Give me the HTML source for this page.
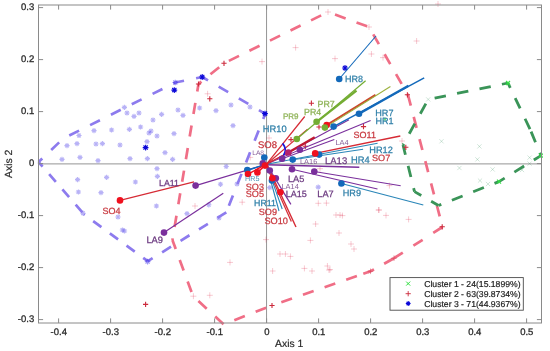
<!DOCTYPE html>
<html lang="en">
<head>
<meta charset="utf-8">
<title>Biplot clusters</title>
<style>
html,body{margin:0;padding:0;background:#ffffff;}
body{width:550px;height:351px;overflow:hidden;}
svg{display:block;text-rendering:geometricPrecision;filter:blur(0.35px);}
</style>
</head>
<body>
<svg width="550" height="351" viewBox="0 0 550 351" font-family="'Liberation Sans', sans-serif">
<rect x="0" y="0" width="550" height="351" fill="#ffffff"/>
<g stroke="#8a8a8a" stroke-width="1.0" fill="none">
<path d="M38.5,163.9H541.5M266.55,5.0V323.0" stroke="#959595"/>
</g>
<clipPath id="cp"><rect x="37.0" y="0.0" width="506.0" height="326.0"/></clipPath>
<g clip-path="url(#cp)">
<g id="light">
<path d="M121.8,107.4H127.0M124.4,104.8V110.0M122.6,105.6L126.2,109.2M122.6,109.2L126.2,105.6" stroke="#3a2ae6" stroke-width="1.1" stroke-opacity="0.36" fill="none"/>
<path d="M124.4,113.0H129.6M127.0,110.4V115.6M125.2,111.2L128.8,114.8M125.2,114.8L128.8,111.2" stroke="#3a2ae6" stroke-width="1.1" stroke-opacity="0.36" fill="none"/>
<path d="M131.4,116.4H136.6M134.0,113.8V119.0M132.2,114.6L135.8,118.2M132.2,118.2L135.8,114.6" stroke="#3a2ae6" stroke-width="1.1" stroke-opacity="0.36" fill="none"/>
<path d="M136.4,113.0H141.6M139.0,110.4V115.6M137.2,111.2L140.8,114.8M137.2,114.8L140.8,111.2" stroke="#3a2ae6" stroke-width="1.1" stroke-opacity="0.36" fill="none"/>
<path d="M150.4,120.0H155.6M153.0,117.4V122.6M151.2,118.2L154.8,121.8M151.2,121.8L154.8,118.2" stroke="#3a2ae6" stroke-width="1.1" stroke-opacity="0.36" fill="none"/>
<path d="M159.0,114.4H164.2M161.6,111.8V117.0M159.8,112.6L163.4,116.2M159.8,116.2L163.4,112.6" stroke="#3a2ae6" stroke-width="1.1" stroke-opacity="0.36" fill="none"/>
<path d="M175.4,110.0H180.6M178.0,107.4V112.6M176.2,108.2L179.8,111.8M176.2,111.8L179.8,108.2" stroke="#3a2ae6" stroke-width="1.1" stroke-opacity="0.36" fill="none"/>
<path d="M180.4,115.4H185.6M183.0,112.8V118.0M181.2,113.6L184.8,117.2M181.2,117.2L184.8,113.6" stroke="#3a2ae6" stroke-width="1.1" stroke-opacity="0.36" fill="none"/>
<path d="M197.0,108.0H202.2M199.6,105.4V110.6M197.8,106.2L201.4,109.8M197.8,109.8L201.4,106.2" stroke="#3a2ae6" stroke-width="1.1" stroke-opacity="0.36" fill="none"/>
<path d="M213.4,110.6H218.6M216.0,108.0V113.2M214.2,108.8L217.8,112.4M214.2,112.4L217.8,108.8" stroke="#3a2ae6" stroke-width="1.1" stroke-opacity="0.36" fill="none"/>
<path d="M109.0,130.0H114.2M111.6,127.4V132.6M109.8,128.2L113.4,131.8M109.8,131.8L113.4,128.2" stroke="#3a2ae6" stroke-width="1.1" stroke-opacity="0.36" fill="none"/>
<path d="M126.8,129.4H132.0M129.4,126.8V132.0M127.6,127.6L131.2,131.2M127.6,131.2L131.2,127.6" stroke="#3a2ae6" stroke-width="1.1" stroke-opacity="0.36" fill="none"/>
<path d="M138.0,127.0H143.2M140.6,124.4V129.6M138.8,125.2L142.4,128.8M138.8,128.8L142.4,125.2" stroke="#3a2ae6" stroke-width="1.1" stroke-opacity="0.36" fill="none"/>
<path d="M146.4,133.0H151.6M149.0,130.4V135.6M147.2,131.2L150.8,134.8M147.2,134.8L150.8,131.2" stroke="#3a2ae6" stroke-width="1.1" stroke-opacity="0.36" fill="none"/>
<path d="M148.4,131.0H153.6M151.0,128.4V133.6M149.2,129.2L152.8,132.8M149.2,132.8L152.8,129.2" stroke="#3a2ae6" stroke-width="1.1" stroke-opacity="0.36" fill="none"/>
<path d="M154.4,136.0H159.6M157.0,133.4V138.6M155.2,134.2L158.8,137.8M155.2,137.8L158.8,134.2" stroke="#3a2ae6" stroke-width="1.1" stroke-opacity="0.36" fill="none"/>
<path d="M171.4,133.6H176.6M174.0,131.0V136.2M172.2,131.8L175.8,135.4M172.2,135.4L175.8,131.8" stroke="#3a2ae6" stroke-width="1.1" stroke-opacity="0.36" fill="none"/>
<path d="M76.4,135.5H81.6M79.0,132.9V138.1M77.2,133.7L80.8,137.3M77.2,137.3L80.8,133.7" stroke="#3a2ae6" stroke-width="1.1" stroke-opacity="0.36" fill="none"/>
<path d="M91.4,130.6H96.6M94.0,128.0V133.2M92.2,128.8L95.8,132.4M92.2,132.4L95.8,128.8" stroke="#3a2ae6" stroke-width="1.1" stroke-opacity="0.36" fill="none"/>
<path d="M228.4,105.0H233.6M231.0,102.4V107.6M229.2,103.2L232.8,106.8M229.2,106.8L232.8,103.2" stroke="#3a2ae6" stroke-width="1.1" stroke-opacity="0.36" fill="none"/>
<path d="M247.4,107.0H252.6M250.0,104.4V109.6M248.2,105.2L251.8,108.8M248.2,108.8L251.8,105.2" stroke="#3a2ae6" stroke-width="1.1" stroke-opacity="0.36" fill="none"/>
<path d="M230.4,125.6H235.6M233.0,123.0V128.2M231.2,123.8L234.8,127.4M231.2,127.4L234.8,123.8" stroke="#3a2ae6" stroke-width="1.1" stroke-opacity="0.36" fill="none"/>
<path d="M64.4,145.6H69.6M67.0,143.0V148.2M65.2,143.8L68.8,147.4M65.2,147.4L68.8,143.8" stroke="#3a2ae6" stroke-width="1.1" stroke-opacity="0.36" fill="none"/>
<path d="M74.4,143.6H79.6M77.0,141.0V146.2M75.2,141.8L78.8,145.4M75.2,145.4L78.8,141.8" stroke="#3a2ae6" stroke-width="1.1" stroke-opacity="0.36" fill="none"/>
<path d="M93.4,144.0H98.6M96.0,141.4V146.6M94.2,142.2L97.8,145.8M94.2,145.8L97.8,142.2" stroke="#3a2ae6" stroke-width="1.1" stroke-opacity="0.36" fill="none"/>
<path d="M99.8,143.6H105.0M102.4,141.0V146.2M100.6,141.8L104.2,145.4M100.6,145.4L104.2,141.8" stroke="#3a2ae6" stroke-width="1.1" stroke-opacity="0.36" fill="none"/>
<path d="M59.4,159.4H64.6M62.0,156.8V162.0M60.2,157.6L63.8,161.2M60.2,161.2L63.8,157.6" stroke="#3a2ae6" stroke-width="1.1" stroke-opacity="0.36" fill="none"/>
<path d="M77.4,157.4H82.6M80.0,154.8V160.0M78.2,155.6L81.8,159.2M78.2,159.2L81.8,155.6" stroke="#3a2ae6" stroke-width="1.1" stroke-opacity="0.36" fill="none"/>
<path d="M95.4,160.6H100.6M98.0,158.0V163.2M96.2,158.8L99.8,162.4M96.2,162.4L99.8,158.8" stroke="#3a2ae6" stroke-width="1.1" stroke-opacity="0.36" fill="none"/>
<path d="M75.0,179.6H80.2M77.6,177.0V182.2M75.8,177.8L79.4,181.4M75.8,181.4L79.4,177.8" stroke="#3a2ae6" stroke-width="1.1" stroke-opacity="0.36" fill="none"/>
<path d="M104.0,177.4H109.2M106.6,174.8V180.0M104.8,175.6L108.4,179.2M104.8,179.2L108.4,175.6" stroke="#3a2ae6" stroke-width="1.1" stroke-opacity="0.36" fill="none"/>
<path d="M75.8,192.0H81.0M78.4,189.4V194.6M76.6,190.2L80.2,193.8M76.6,193.8L80.2,190.2" stroke="#3a2ae6" stroke-width="1.1" stroke-opacity="0.36" fill="none"/>
<path d="M98.4,192.6H103.6M101.0,190.0V195.2M99.2,190.8L102.8,194.4M99.2,194.4L102.8,190.8" stroke="#3a2ae6" stroke-width="1.1" stroke-opacity="0.36" fill="none"/>
<path d="M117.4,145.0H122.6M120.0,142.4V147.6M118.2,143.2L121.8,146.8M118.2,146.8L121.8,143.2" stroke="#3a2ae6" stroke-width="1.1" stroke-opacity="0.36" fill="none"/>
<path d="M144.4,141.6H149.6M147.0,139.0V144.2M145.2,139.8L148.8,143.4M145.2,143.4L148.8,139.8" stroke="#3a2ae6" stroke-width="1.1" stroke-opacity="0.36" fill="none"/>
<path d="M162.4,152.6H167.6M165.0,150.0V155.2M163.2,150.8L166.8,154.4M163.2,154.4L166.8,150.8" stroke="#3a2ae6" stroke-width="1.1" stroke-opacity="0.36" fill="none"/>
<path d="M127.4,158.6H132.6M130.0,156.0V161.2M128.2,156.8L131.8,160.4M128.2,160.4L131.8,156.8" stroke="#3a2ae6" stroke-width="1.1" stroke-opacity="0.36" fill="none"/>
<path d="M144.8,158.6H150.0M147.4,156.0V161.2M145.6,156.8L149.2,160.4M145.6,160.4L149.2,156.8" stroke="#3a2ae6" stroke-width="1.1" stroke-opacity="0.36" fill="none"/>
<path d="M170.0,159.4H175.2M172.6,156.8V162.0M170.8,157.6L174.4,161.2M170.8,161.2L174.4,157.6" stroke="#3a2ae6" stroke-width="1.1" stroke-opacity="0.36" fill="none"/>
<path d="M154.4,168.6H159.6M157.0,166.0V171.2M155.2,166.8L158.8,170.4M155.2,170.4L158.8,166.8" stroke="#3a2ae6" stroke-width="1.1" stroke-opacity="0.36" fill="none"/>
<path d="M154.8,176.4H160.0M157.4,173.8V179.0M155.6,174.6L159.2,178.2M155.6,178.2L159.2,174.6" stroke="#3a2ae6" stroke-width="1.1" stroke-opacity="0.36" fill="none"/>
<path d="M132.8,182.0H138.0M135.4,179.4V184.6M133.6,180.2L137.2,183.8M133.6,183.8L137.2,180.2" stroke="#3a2ae6" stroke-width="1.1" stroke-opacity="0.36" fill="none"/>
<path d="M153.8,206.0H159.0M156.4,203.4V208.6M154.6,204.2L158.2,207.8M154.6,207.8L158.2,204.2" stroke="#3a2ae6" stroke-width="1.1" stroke-opacity="0.36" fill="none"/>
<path d="M115.4,217.0H120.6M118.0,214.4V219.6M116.2,215.2L119.8,218.8M116.2,218.8L119.8,215.2" stroke="#3a2ae6" stroke-width="1.1" stroke-opacity="0.36" fill="none"/>
<path d="M119.8,230.0H125.0M122.4,227.4V232.6M120.6,228.2L124.2,231.8M120.6,231.8L124.2,228.2" stroke="#3a2ae6" stroke-width="1.1" stroke-opacity="0.36" fill="none"/>
<path d="M121.9,231.0H127.1M124.5,228.4V233.6M122.7,229.2L126.3,232.8M122.7,232.8L126.3,229.2" stroke="#3a2ae6" stroke-width="1.1" stroke-opacity="0.36" fill="none"/>
<path d="M184.4,213.6H189.6M187.0,211.0V216.2M185.2,211.8L188.8,215.4M185.2,215.4L188.8,211.8" stroke="#3a2ae6" stroke-width="1.1" stroke-opacity="0.36" fill="none"/>
<path d="M216.4,218.0H221.6M219.0,215.4V220.6M217.2,216.2L220.8,219.8M217.2,219.8L220.8,216.2" stroke="#3a2ae6" stroke-width="1.1" stroke-opacity="0.36" fill="none"/>
<path d="M80.4,213.2H85.6M83.0,210.6V215.8M81.2,211.4L84.8,215.0M81.2,215.0L84.8,211.4" stroke="#3a2ae6" stroke-width="1.1" stroke-opacity="0.36" fill="none"/>
<path d="M267.2,187.6H272.4M269.8,185.0V190.2M268.0,185.8L271.6,189.4M268.0,189.4L271.6,185.8" stroke="#3a2ae6" stroke-width="1.1" stroke-opacity="0.36" fill="none"/>
<path d="M315.6,187.1H320.8M318.2,184.5V189.7M316.4,185.3L320.0,188.9M316.4,188.9L320.0,185.3" stroke="#3a2ae6" stroke-width="1.1" stroke-opacity="0.36" fill="none"/>
<path d="M223.6,166.5H228.8M226.2,163.9V169.1M224.4,164.7L228.0,168.3M224.4,168.3L228.0,164.7" stroke="#3a2ae6" stroke-width="1.1" stroke-opacity="0.36" fill="none"/>
<path d="M217.9,184.3H223.1M220.5,181.7V186.9M218.7,182.5L222.3,186.1M218.7,186.1L222.3,182.5" stroke="#3a2ae6" stroke-width="1.1" stroke-opacity="0.36" fill="none"/>
<path d="M234.4,184.0H239.6M237.0,181.4V186.6M235.2,182.2L238.8,185.8M235.2,185.8L238.8,182.2" stroke="#3a2ae6" stroke-width="1.1" stroke-opacity="0.36" fill="none"/>
<path d="M206.2,204.8H211.4M208.8,202.2V207.4M207.0,203.0L210.6,206.6M207.0,206.6L210.6,203.0" stroke="#3a2ae6" stroke-width="1.1" stroke-opacity="0.36" fill="none"/>
<path d="M292.6,47.6H298.6M295.6,44.6V50.6" stroke="#e02848" stroke-width="0.9" stroke-opacity="0.28" fill="none"/>
<path d="M259.0,61.6H265.0M262.0,58.6V64.6" stroke="#e02848" stroke-width="0.9" stroke-opacity="0.28" fill="none"/>
<path d="M366.0,27.0H372.0M369.0,24.0V30.0" stroke="#e02848" stroke-width="0.9" stroke-opacity="0.28" fill="none"/>
<path d="M413.6,41.0H419.6M416.6,38.0V44.0" stroke="#e02848" stroke-width="0.9" stroke-opacity="0.28" fill="none"/>
<path d="M368.4,54.0H374.4M371.4,51.0V57.0" stroke="#e02848" stroke-width="0.9" stroke-opacity="0.28" fill="none"/>
<path d="M380.0,57.6H386.0M383.0,54.6V60.6" stroke="#e02848" stroke-width="0.9" stroke-opacity="0.28" fill="none"/>
<path d="M332.0,58.6H338.0M335.0,55.6V61.6" stroke="#e02848" stroke-width="0.9" stroke-opacity="0.28" fill="none"/>
<path d="M435.0,4.0H441.0M438.0,1.0V7.0" stroke="#e02848" stroke-width="0.9" stroke-opacity="0.28" fill="none"/>
<path d="M325.0,12.0H331.0M328.0,9.0V15.0" stroke="#e02848" stroke-width="0.9" stroke-opacity="0.28" fill="none"/>
<path d="M204.6,93.8H210.6M207.6,90.8V96.8" stroke="#e02848" stroke-width="0.9" stroke-opacity="0.28" fill="none"/>
<path d="M266.0,138.0H272.0M269.0,135.0V141.0" stroke="#e02848" stroke-width="0.9" stroke-opacity="0.28" fill="none"/>
<path d="M192.0,206.0H198.0M195.0,203.0V209.0" stroke="#e02848" stroke-width="0.9" stroke-opacity="0.28" fill="none"/>
<path d="M312.6,224.0H318.6M315.6,221.0V227.0" stroke="#e02848" stroke-width="0.9" stroke-opacity="0.28" fill="none"/>
<path d="M307.4,240.4H313.4M310.4,237.4V243.4" stroke="#e02848" stroke-width="0.9" stroke-opacity="0.28" fill="none"/>
<path d="M263.0,239.6H269.0M266.0,236.6V242.6" stroke="#e02848" stroke-width="0.9" stroke-opacity="0.28" fill="none"/>
<path d="M277.0,254.0H283.0M280.0,251.0V257.0" stroke="#e02848" stroke-width="0.9" stroke-opacity="0.28" fill="none"/>
<path d="M282.4,254.0H288.4M285.4,251.0V257.0" stroke="#e02848" stroke-width="0.9" stroke-opacity="0.28" fill="none"/>
<path d="M287.4,256.4H293.4M290.4,253.4V259.4" stroke="#e02848" stroke-width="0.9" stroke-opacity="0.28" fill="none"/>
<path d="M227.0,262.4H233.0M230.0,259.4V265.4" stroke="#e02848" stroke-width="0.9" stroke-opacity="0.28" fill="none"/>
<path d="M269.6,271.0H275.6M272.6,268.0V274.0" stroke="#e02848" stroke-width="0.9" stroke-opacity="0.28" fill="none"/>
<path d="M301.4,268.4H307.4M304.4,265.4V271.4" stroke="#e02848" stroke-width="0.9" stroke-opacity="0.28" fill="none"/>
<path d="M309.0,271.0H315.0M312.0,268.0V274.0" stroke="#e02848" stroke-width="0.9" stroke-opacity="0.28" fill="none"/>
<path d="M324.4,266.0H330.4M327.4,263.0V269.0" stroke="#e02848" stroke-width="0.9" stroke-opacity="0.28" fill="none"/>
<path d="M326.0,270.0H332.0M329.0,267.0V273.0" stroke="#e02848" stroke-width="0.9" stroke-opacity="0.28" fill="none"/>
<path d="M333.0,215.0H339.0M336.0,212.0V218.0" stroke="#e02848" stroke-width="0.9" stroke-opacity="0.28" fill="none"/>
<path d="M337.0,215.0H343.0M340.0,212.0V218.0" stroke="#e02848" stroke-width="0.9" stroke-opacity="0.28" fill="none"/>
<path d="M339.4,215.6H345.4M342.4,212.6V218.6" stroke="#e02848" stroke-width="0.9" stroke-opacity="0.28" fill="none"/>
<path d="M383.0,215.4H389.0M386.0,212.4V218.4" stroke="#e02848" stroke-width="0.9" stroke-opacity="0.28" fill="none"/>
<path d="M376.0,210.0H382.0M379.0,207.0V213.0" stroke="#e02848" stroke-width="0.9" stroke-opacity="0.28" fill="none"/>
<path d="M405.6,219.4H411.6M408.6,216.4V222.4" stroke="#e02848" stroke-width="0.9" stroke-opacity="0.28" fill="none"/>
<path d="M336.0,233.0H342.0M339.0,230.0V236.0" stroke="#e02848" stroke-width="0.9" stroke-opacity="0.28" fill="none"/>
<path d="M348.0,244.0H354.0M351.0,241.0V247.0" stroke="#e02848" stroke-width="0.9" stroke-opacity="0.28" fill="none"/>
<path d="M351.0,249.0H357.0M354.0,246.0V252.0" stroke="#e02848" stroke-width="0.9" stroke-opacity="0.28" fill="none"/>
<path d="M327.0,269.6H333.0M330.0,266.6V272.6" stroke="#e02848" stroke-width="0.9" stroke-opacity="0.28" fill="none"/>
<path d="M190.4,296.2H196.4M193.4,293.2V299.2" stroke="#e02848" stroke-width="0.9" stroke-opacity="0.28" fill="none"/>
<path d="M206.8,295.3H212.8M209.8,292.3V298.3" stroke="#e02848" stroke-width="0.9" stroke-opacity="0.28" fill="none"/>
<path d="M399.0,141.0H405.0M402.0,138.0V144.0" stroke="#e02848" stroke-width="0.9" stroke-opacity="0.28" fill="none"/>
<path d="M386.4,185.6H392.4M389.4,182.6V188.6" stroke="#e02848" stroke-width="0.9" stroke-opacity="0.28" fill="none"/>
<path d="M375.6,210.0H381.6M378.6,207.0V213.0" stroke="#e02848" stroke-width="0.9" stroke-opacity="0.28" fill="none"/>
<path d="M239.2,202.2H245.2M242.2,199.2V205.2" stroke="#e02848" stroke-width="0.9" stroke-opacity="0.28" fill="none"/>
<path d="M315.3,203.3H321.3M318.3,200.3V206.3" stroke="#e02848" stroke-width="0.9" stroke-opacity="0.28" fill="none"/>
<path d="M323.4,203.1H329.4M326.4,200.1V206.1" stroke="#e02848" stroke-width="0.9" stroke-opacity="0.28" fill="none"/>
<path d="M317.0,168.7H323.0M320.0,165.7V171.7" stroke="#e02848" stroke-width="0.9" stroke-opacity="0.28" fill="none"/>
<path d="M247.2,157.4H253.2M250.2,154.4V160.4" stroke="#e02848" stroke-width="0.9" stroke-opacity="0.28" fill="none"/>
<path d="M426.1,97.3L430.3,101.5M426.1,101.5L430.3,97.3" stroke="#2e8f55" stroke-width="0.8" stroke-opacity="0.28" fill="none"/>
<path d="M439.4,139.2L443.6,143.4M439.4,143.4L443.6,139.2" stroke="#2e8f55" stroke-width="0.8" stroke-opacity="0.28" fill="none"/>
<path d="M477.3,144.3L481.5,148.5M477.3,148.5L481.5,144.3" stroke="#2e8f55" stroke-width="0.8" stroke-opacity="0.28" fill="none"/>
<path d="M475.3,157.3L479.5,161.5M475.3,161.5L479.5,157.3" stroke="#2e8f55" stroke-width="0.8" stroke-opacity="0.28" fill="none"/>
<path d="M457.3,165.9L461.5,170.1M457.3,170.1L461.5,165.9" stroke="#2e8f55" stroke-width="0.8" stroke-opacity="0.28" fill="none"/>
<path d="M490.5,167.3L494.7,171.5M490.5,171.5L494.7,167.3" stroke="#2e8f55" stroke-width="0.8" stroke-opacity="0.28" fill="none"/>
<path d="M477.9,178.5L482.1,182.7M477.9,182.7L482.1,178.5" stroke="#2e8f55" stroke-width="0.8" stroke-opacity="0.28" fill="none"/>
<path d="M485.9,181.9L490.1,186.1M485.9,186.1L490.1,181.9" stroke="#2e8f55" stroke-width="0.8" stroke-opacity="0.28" fill="none"/>
<path d="M527.5,155.5L531.7,159.7M527.5,159.7L531.7,155.5" stroke="#2e8f55" stroke-width="0.8" stroke-opacity="0.28" fill="none"/>
<path d="M527.5,161.5L531.7,165.7M527.5,165.7L531.7,161.5" stroke="#2e8f55" stroke-width="0.8" stroke-opacity="0.28" fill="none"/>
<path d="M519.9,167.9L524.1,172.1M519.9,172.1L524.1,167.9" stroke="#2e8f55" stroke-width="0.8" stroke-opacity="0.28" fill="none"/>
</g>
<line x1="38.5" y1="162.0" x2="63.0" y2="138.7" stroke="#8d7bee" stroke-width="2.7" stroke-dasharray="11.00 12.30" stroke-dashoffset="5.80"/>
<line x1="63.0" y1="138.7" x2="175.3" y2="82.5" stroke="#8d7bee" stroke-width="2.7" stroke-dasharray="11.00 12.30" stroke-dashoffset="16.31"/>
<line x1="175.3" y1="82.5" x2="202.2" y2="77.0" stroke="#8d7bee" stroke-width="2.7" stroke-dasharray="11.00 12.30" stroke-dashoffset="2.09"/>
<line x1="202.2" y1="77.0" x2="265.3" y2="113.8" stroke="#8d7bee" stroke-width="2.7" stroke-dasharray="11.00 12.30" stroke-dashoffset="4.24"/>
<line x1="265.3" y1="113.8" x2="226.3" y2="212.3" stroke="#8d7bee" stroke-width="2.7" stroke-dasharray="11.00 12.30" stroke-dashoffset="5.29"/>
<line x1="226.3" y1="212.3" x2="147.8" y2="261.2" stroke="#8d7bee" stroke-width="2.7" stroke-dasharray="10.50 11.20" stroke-dashoffset="0.00"/>
<line x1="147.8" y1="261.2" x2="84.0" y2="214.3" stroke="#8d7bee" stroke-width="2.7" stroke-dasharray="10.20 10.50" stroke-dashoffset="4.50"/>
<line x1="84.0" y1="214.3" x2="38.5" y2="162.0" stroke="#8d7bee" stroke-width="2.7" stroke-dasharray="10.20 10.00" stroke-dashoffset="17.70"/>
<line x1="394.0" y1="258.2" x2="370.5" y2="271.3" stroke="#f06e86" stroke-width="2.7" stroke-dasharray="11.30 11.60" stroke-dashoffset="0.00"/>
<line x1="370.5" y1="271.3" x2="272.0" y2="305.5" stroke="#f06e86" stroke-width="2.7" stroke-dasharray="11.30 11.60" stroke-dashoffset="8.50"/>
<line x1="272.0" y1="305.5" x2="223.6" y2="324.3" stroke="#f06e86" stroke-width="2.7" stroke-dasharray="11.30 11.60" stroke-dashoffset="16.67"/>
<line x1="223.6" y1="324.3" x2="193.0" y2="296.0" stroke="#f06e86" stroke-width="2.7" stroke-dasharray="11.30 11.60" stroke-dashoffset="22.80"/>
<line x1="193.0" y1="296.0" x2="172.4" y2="240.0" stroke="#f06e86" stroke-width="2.7" stroke-dasharray="11.30 11.60" stroke-dashoffset="18.68"/>
<line x1="172.4" y1="240.0" x2="198.5" y2="84.0" stroke="#f06e86" stroke-width="2.7" stroke-dasharray="11.30 11.60" stroke-dashoffset="9.65"/>
<line x1="198.5" y1="84.0" x2="224.0" y2="63.3" stroke="#f06e86" stroke-width="2.7" stroke-dasharray="11.30 11.60" stroke-dashoffset="7.51"/>
<line x1="224.0" y1="63.3" x2="328.0" y2="12.0" stroke="#f06e86" stroke-width="2.7" stroke-dasharray="11.30 11.60" stroke-dashoffset="17.46"/>
<line x1="328.0" y1="12.0" x2="369.0" y2="27.0" stroke="#f06e86" stroke-width="2.7" stroke-dasharray="11.30 11.60" stroke-dashoffset="15.42"/>
<line x1="369.0" y1="27.0" x2="408.0" y2="95.0" stroke="#f06e86" stroke-width="2.7" stroke-dasharray="11.30 11.60" stroke-dashoffset="14.38"/>
<line x1="408.0" y1="95.0" x2="442.5" y2="227.0" stroke="#f06e86" stroke-width="2.7" stroke-dasharray="11.30 11.60" stroke-dashoffset="0.27"/>
<line x1="442.5" y1="227.0" x2="394.0" y2="258.2" stroke="#f06e86" stroke-width="2.7" stroke-dasharray="11.00 12.60" stroke-dashoffset="0.00"/>
<line x1="530.6" y1="130.4" x2="541.0" y2="155.6" stroke="#3a9458" stroke-width="2.8" stroke-dasharray="11.50 11.40" stroke-dashoffset="21.60"/>
<line x1="541.0" y1="155.6" x2="499.0" y2="181.6" stroke="#3a9458" stroke-width="2.8" stroke-dasharray="11.50 11.40" stroke-dashoffset="3.06"/>
<line x1="499.0" y1="181.6" x2="438.5" y2="205.5" stroke="#3a9458" stroke-width="2.8" stroke-dasharray="11.50 11.40" stroke-dashoffset="6.66"/>
<line x1="438.5" y1="205.5" x2="414.5" y2="191.6" stroke="#3a9458" stroke-width="2.8" stroke-dasharray="11.50 11.40" stroke-dashoffset="3.01"/>
<line x1="414.5" y1="191.6" x2="403.0" y2="145.0" stroke="#3a9458" stroke-width="2.8" stroke-dasharray="11.50 11.40" stroke-dashoffset="7.84"/>
<line x1="403.0" y1="145.0" x2="428.2" y2="99.4" stroke="#3a9458" stroke-width="2.8" stroke-dasharray="11.50 11.40" stroke-dashoffset="10.04"/>
<line x1="428.2" y1="99.4" x2="508.0" y2="83.0" stroke="#3a9458" stroke-width="2.8" stroke-dasharray="11.50 11.40" stroke-dashoffset="16.34"/>
<line x1="508.0" y1="83.0" x2="530.6" y2="130.4" stroke="#3a9458" stroke-width="2.8" stroke-dasharray="11.50 11.40" stroke-dashoffset="6.21"/>
<line x1="370.5" y1="271.3" x2="363.3" y2="273.8" stroke="#f06e86" stroke-width="2.7"/>
<path d="M172.5,82.5H178.1M175.3,79.7V85.3M173.3,80.5L177.3,84.5M173.3,84.5L177.3,80.5" stroke="#3a2ae8" stroke-width="1.1" stroke-opacity="0.5" fill="none"/>
<path d="M144.8,261.6H150.4M147.6,258.8V264.4M145.6,259.6L149.6,263.6M145.6,263.6L149.6,259.6" stroke="#3a2ae8" stroke-width="1.1" stroke-opacity="0.5" fill="none"/>
<path d="M171.4,90.1H177.2M174.3,87.2V93.0M172.2,88.0L176.4,92.2M172.2,92.2L176.4,88.0" stroke="#0a06d8" stroke-width="1.1" stroke-opacity="1.0" fill="none"/>
<path d="M199.3,77.0H205.1M202.2,74.1V79.9M200.1,74.9L204.3,79.1M200.1,79.1L204.3,74.9" stroke="#0a06d8" stroke-width="1.1" stroke-opacity="1.0" fill="none"/>
<path d="M262.1,113.6H267.9M265.0,110.7V116.5M262.9,111.5L267.1,115.7M262.9,115.7L267.1,111.5" stroke="#0a06d8" stroke-width="1.1" stroke-opacity="1.0" fill="none"/>
<path d="M142.7,147.6H148.5M145.6,144.7V150.5M143.5,145.5L147.7,149.7M143.5,149.7L147.7,145.5" stroke="#0a06d8" stroke-width="1.1" stroke-opacity="1.0" fill="none"/>
<path d="M342.1,68.0H347.9M345.0,65.1V70.9M342.9,65.9L347.1,70.1M342.9,70.1L347.1,65.9" stroke="#0a06d8" stroke-width="1.1" stroke-opacity="1.0" fill="none"/>
<path d="M367.7,271.3H373.3M370.5,268.5V274.1" stroke="#d03048" stroke-width="1.0" stroke-opacity="0.45" fill="none"/>
<path d="M391.2,258.2H396.8M394.0,255.4V261.0" stroke="#d03048" stroke-width="1.0" stroke-opacity="0.45" fill="none"/>
<path d="M221.4,63.3H226.6M224.0,60.7V65.9" stroke="#cc2a3c" stroke-width="1.1" stroke-opacity="1.0" fill="none"/>
<path d="M195.9,84.0H201.1M198.5,81.4V86.6" stroke="#cc2a3c" stroke-width="1.1" stroke-opacity="1.0" fill="none"/>
<path d="M207.2,98.8H212.4M209.8,96.2V101.4" stroke="#cc2a3c" stroke-width="1.1" stroke-opacity="1.0" fill="none"/>
<path d="M308.8,103.2H314.0M311.4,100.6V105.8" stroke="#cc2a3c" stroke-width="1.1" stroke-opacity="1.0" fill="none"/>
<path d="M404.8,94.8H410.0M407.4,92.2V97.4" stroke="#cc2a3c" stroke-width="1.1" stroke-opacity="1.0" fill="none"/>
<path d="M360.9,126.6H366.1M363.5,124.0V129.2" stroke="#cc2a3c" stroke-width="1.1" stroke-opacity="1.0" fill="none"/>
<path d="M403.2,147.3H408.4M405.8,144.7V149.9" stroke="#cc2a3c" stroke-width="1.1" stroke-opacity="1.0" fill="none"/>
<path d="M439.6,226.8H444.8M442.2,224.2V229.4" stroke="#cc2a3c" stroke-width="1.1" stroke-opacity="1.0" fill="none"/>
<path d="M269.4,305.5H274.6M272.0,302.9V308.1" stroke="#cc2a3c" stroke-width="1.1" stroke-opacity="1.0" fill="none"/>
<path d="M143.0,304.4H148.2M145.6,301.8V307.0" stroke="#cc2a3c" stroke-width="1.1" stroke-opacity="1.0" fill="none"/>
<path d="M316.4,127.0H321.6M319.0,124.4V129.6" stroke="#cc2a3c" stroke-width="1.1" stroke-opacity="1.0" fill="none"/>
<path d="M302.7,146.3H307.9M305.3,143.7V148.9" stroke="#cc2a3c" stroke-width="1.1" stroke-opacity="1.0" fill="none"/>
<path d="M288.4,139.6H293.6M291.0,137.0V142.2" stroke="#cc2a3c" stroke-width="1.1" stroke-opacity="1.0" fill="none"/>
<path d="M506.0,81.0L510.0,85.0M506.0,85.0L510.0,81.0" stroke="#2fe040" stroke-width="1.2" stroke-opacity="0.95" fill="none"/>
<path d="M539.0,153.6L543.0,157.6M539.0,157.6L543.0,153.6" stroke="#2fe040" stroke-width="1.2" stroke-opacity="0.95" fill="none"/>
<path d="M497.0,179.6L501.0,183.6M497.0,183.6L501.0,179.6" stroke="#2fe040" stroke-width="1.2" stroke-opacity="0.95" fill="none"/>
<path d="M383.7,118.1L386.3,120.7M383.7,120.7L386.3,118.1" stroke="#2fe040" stroke-width="1.0" stroke-opacity="0.9" fill="none"/>
<line x1="164.0" y1="232.6" x2="223.3" y2="193.3" stroke="#7a2f9c" stroke-width="1.2"/>
<line x1="195.6" y1="185.6" x2="266.5" y2="164.2" stroke="#7a2f9c" stroke-width="1.2"/>
<line x1="266.5" y1="164.2" x2="288.4" y2="152.5" stroke="#7a2f9c" stroke-width="1.0"/>
<line x1="288.4" y1="152.5" x2="349.0" y2="119.8" stroke="#7a2f9c" stroke-width="1.1"/>
<line x1="266.5" y1="164.2" x2="299.7" y2="149.8" stroke="#7a2f9c" stroke-width="1.0"/>
<line x1="299.7" y1="149.8" x2="370.6" y2="120.6" stroke="#7a2f9c" stroke-width="1.1"/>
<line x1="282.1" y1="158.7" x2="334.3" y2="139.4" stroke="#7a2f9c" stroke-width="1.1"/>
<line x1="266.5" y1="164.8" x2="359.3" y2="167.2" stroke="#7a2f9c" stroke-width="1.4"/>
<line x1="292.0" y1="169.3" x2="377.5" y2="189.0" stroke="#7a2f9c" stroke-width="1.15"/>
<line x1="314.3" y1="171.5" x2="400.7" y2="185.7" stroke="#7a2f9c" stroke-width="1.15"/>
<line x1="266.5" y1="164.2" x2="290.9" y2="204.4" stroke="#7a2f9c" stroke-width="1.2"/>
<line x1="339.2" y1="79.0" x2="376.0" y2="36.0" stroke="#1369ba" stroke-width="1.1"/>
<line x1="333.6" y1="126.6" x2="424.2" y2="77.9" stroke="#1369ba" stroke-width="1.5"/>
<line x1="359.0" y1="113.8" x2="408.5" y2="85.7" stroke="#1369ba" stroke-width="2.4"/>
<line x1="266.5" y1="164.2" x2="377.6" y2="143.3" stroke="#2a86b8" stroke-width="1.1"/>
<line x1="292.7" y1="159.8" x2="363.1" y2="149.2" stroke="#2a86b8" stroke-width="1.1"/>
<line x1="341.4" y1="183.5" x2="423.3" y2="205.0" stroke="#2a86b8" stroke-width="1.2"/>
<line x1="247.3" y1="170.2" x2="266.5" y2="164.2" stroke="#1369ba" stroke-width="1.6"/>
<line x1="272.0" y1="180.4" x2="282.2" y2="209.0" stroke="#2a86b8" stroke-width="1.1"/>
<line x1="270.0" y1="178.0" x2="279.0" y2="211.0" stroke="#2a86b8" stroke-width="1.1"/>
<line x1="266.5" y1="164.2" x2="304.7" y2="116.5" stroke="#d62a34" stroke-width="1.2"/>
<line x1="266.5" y1="164.2" x2="307.6" y2="129.1" stroke="#d62a34" stroke-width="1.2"/>
<line x1="266.5" y1="164.2" x2="288.4" y2="152.5" stroke="#d62a34" stroke-width="1.4"/>
<line x1="288.4" y1="152.5" x2="314.7" y2="137.2" stroke="#c01830" stroke-width="2.2"/>
<line x1="326.7" y1="125.0" x2="375.5" y2="94.8" stroke="#cc452c" stroke-width="2.0"/>
<line x1="315.1" y1="153.4" x2="400.3" y2="136.0" stroke="#d62a34" stroke-width="1.3"/>
<line x1="120.0" y1="200.4" x2="194.0" y2="181.9" stroke="#d62a34" stroke-width="1.2"/>
<line x1="248.0" y1="174.1" x2="266.5" y2="164.2" stroke="#f0101e" stroke-width="1.5"/>
<line x1="257.5" y1="172.4" x2="266.5" y2="164.2" stroke="#f0101e" stroke-width="1.5"/>
<line x1="266.8" y1="164.2" x2="296.0" y2="227.0" stroke="#d62a34" stroke-width="1.4"/>
<line x1="266.2" y1="165.2" x2="291.3" y2="221.5" stroke="#d62a34" stroke-width="1.2"/>
<line x1="296.8" y1="139.0" x2="365.6" y2="80.7" stroke="#74ad33" stroke-width="1.2"/>
<line x1="316.6" y1="121.8" x2="356.5" y2="90.6" stroke="#74ad33" stroke-width="2.3"/>
<line x1="324.9" y1="127.6" x2="390.4" y2="86.5" stroke="#9bb13c" stroke-width="1.1"/>
<path d="M282.6,143.4 Q287.6,149.6 283.4,155.6" stroke="#1a18e0" stroke-width="1.7" fill="none"/>
<circle cx="120.0" cy="200.4" r="3.3" fill="#f0101e"/>
<circle cx="195.6" cy="185.6" r="3.3" fill="#7a2f9c"/>
<circle cx="164.0" cy="232.6" r="3.3" fill="#7a2f9c"/>
<circle cx="339.2" cy="79.0" r="3.3" fill="#1369ba"/>
<circle cx="359.0" cy="113.8" r="3.3" fill="#1369ba"/>
<circle cx="333.6" cy="126.6" r="3.3" fill="#1369ba"/>
<circle cx="326.7" cy="125.0" r="3.3" fill="#f0101e"/>
<circle cx="324.9" cy="127.6" r="3.3" fill="#74ad33"/>
<circle cx="316.6" cy="121.8" r="3.3" fill="#74ad33"/>
<circle cx="296.8" cy="139.0" r="3.3" fill="#74ad33"/>
<circle cx="299.8" cy="149.8" r="3.3" fill="#7a2f9c"/>
<circle cx="288.4" cy="152.5" r="3.3" fill="#b3206c"/>
<circle cx="282.1" cy="158.7" r="3.3" fill="#7a2f9c"/>
<circle cx="292.7" cy="159.6" r="3.3" fill="#1369ba"/>
<circle cx="319.1" cy="154.6" r="3.3" fill="#1369ba"/>
<circle cx="315.2" cy="153.4" r="3.3" fill="#f0101e"/>
<circle cx="264.3" cy="157.6" r="3.3" fill="#1369ba"/>
<circle cx="262.8" cy="163.3" r="3.3" fill="#7a2f9c"/>
<circle cx="265.0" cy="165.6" r="3.3" fill="#f0101e"/>
<circle cx="247.3" cy="170.1" r="3.3" fill="#1369ba"/>
<circle cx="248.0" cy="174.0" r="3.3" fill="#f0101e"/>
<circle cx="257.4" cy="172.4" r="3.3" fill="#f0101e"/>
<circle cx="269.8" cy="170.5" r="3.3" fill="#7a2f9c"/>
<circle cx="272.0" cy="180.4" r="3.3" fill="#1369ba"/>
<circle cx="275.8" cy="178.2" r="3.3" fill="#7a2f9c"/>
<circle cx="272.4" cy="178.2" r="3.3" fill="#f0101e"/>
<circle cx="280.4" cy="192.3" r="3.3" fill="#f0101e"/>
<circle cx="292.0" cy="169.3" r="3.3" fill="#7a2f9c"/>
<circle cx="314.3" cy="171.5" r="3.3" fill="#7a2f9c"/>
<circle cx="341.4" cy="183.5" r="3.3" fill="#1369ba"/>
</g>
<text x="345.0" y="82.0" font-size="9.0" fill="#2f7fa8" fill-opacity="1.0" stroke="#2f7fa8" stroke-width="0.25">HR8</text>
<text x="317.6" y="106.6" font-size="8.8" fill="#8db255" fill-opacity="1.0" stroke="#8db255" stroke-width="0.25">PR7</text>
<text x="304.1" y="114.7" font-size="8.8" fill="#8db255" fill-opacity="1.0" stroke="#8db255" stroke-width="0.25">PR4</text>
<text x="283.0" y="118.5" font-size="8.0" fill="#8db255" fill-opacity="1.0" stroke="#8db255" stroke-width="0.25">PR9</text>
<text x="262.8" y="131.5" font-size="9.3" fill="#2f7fa8" fill-opacity="1.0" stroke="#2f7fa8" stroke-width="0.25">HR10</text>
<text x="375.3" y="115.9" font-size="9.1" fill="#2f7fa8" fill-opacity="1.0" stroke="#2f7fa8" stroke-width="0.25">HR7</text>
<text x="375.5" y="124.4" font-size="9.0" fill="#2f7fa8" fill-opacity="1.0" stroke="#2f7fa8" stroke-width="0.25">HR1</text>
<text x="353.6" y="137.5" font-size="9.0" fill="#c8383f" fill-opacity="1.0" stroke="#c8383f" stroke-width="0.25">SO11</text>
<text x="258.0" y="147.6" font-size="9.5" fill="#c8383f" fill-opacity="1.0" stroke="#c8383f" stroke-width="0.25">SO8</text>
<text x="252.3" y="154.7" font-size="6.6" fill="#6c3a80" fill-opacity="0.85" stroke="#6c3a80" stroke-width="0.0">LA8</text>
<text x="335.5" y="145.0" font-size="7.4" fill="#6c3a80" fill-opacity="0.85" stroke="#6c3a80" stroke-width="0.0">LA4</text>
<text x="369.3" y="152.5" font-size="9.2" fill="#2f7fa8" fill-opacity="1.0" stroke="#2f7fa8" stroke-width="0.25">HR12</text>
<text x="372.0" y="161.2" font-size="9.1" fill="#c8383f" fill-opacity="1.0" stroke="#c8383f" stroke-width="0.25">SO7</text>
<text x="351.0" y="162.5" font-size="9.3" fill="#2f7fa8" fill-opacity="1.0" stroke="#2f7fa8" stroke-width="0.25">HR4</text>
<text x="325.0" y="163.5" font-size="9.5" fill="#6c3a80" fill-opacity="1.0" stroke="#6c3a80" stroke-width="0.25">LA13</text>
<text x="300.0" y="163.9" font-size="7.4" fill="#6c3a80" fill-opacity="0.85" stroke="#6c3a80" stroke-width="0.0">LA16</text>
<text x="159.0" y="185.8" font-size="8.8" fill="#6c3a80" fill-opacity="1.0" stroke="#6c3a80" stroke-width="0.25">LA11</text>
<text x="102.4" y="214.0" font-size="9.0" fill="#c8383f" fill-opacity="1.0" stroke="#c8383f" stroke-width="0.25">SO4</text>
<text x="146.4" y="242.9" font-size="9.3" fill="#6c3a80" fill-opacity="1.0" stroke="#6c3a80" stroke-width="0.25">LA9</text>
<text x="245.0" y="181.2" font-size="7.2" fill="#2f7fa8" fill-opacity="0.85" stroke="#2f7fa8" stroke-width="0.0">HR5</text>
<text x="245.8" y="189.5" font-size="9.1" fill="#c8383f" fill-opacity="1.0" stroke="#c8383f" stroke-width="0.25">SO3</text>
<text x="245.8" y="197.0" font-size="9.1" fill="#c8383f" fill-opacity="1.0" stroke="#c8383f" stroke-width="0.25">SO5</text>
<text x="254.1" y="206.4" font-size="8.8" fill="#2f7fa8" fill-opacity="1.0" stroke="#2f7fa8" stroke-width="0.25">HR11</text>
<text x="258.8" y="215.1" font-size="9.1" fill="#c8383f" fill-opacity="1.0" stroke="#c8383f" stroke-width="0.25">SO9</text>
<text x="264.4" y="223.7" font-size="9.2" fill="#c8383f" fill-opacity="1.0" stroke="#c8383f" stroke-width="0.25">SO10</text>
<text x="288.0" y="182.2" font-size="9.2" fill="#6c3a80" fill-opacity="1.0" stroke="#6c3a80" stroke-width="0.25">LA5</text>
<text x="281.5" y="188.8" font-size="7.4" fill="#6c3a80" fill-opacity="0.85" stroke="#6c3a80" stroke-width="0.0">LA14</text>
<text x="285.8" y="196.7" font-size="9.0" fill="#6c3a80" fill-opacity="1.0" stroke="#6c3a80" stroke-width="0.25">LA15</text>
<text x="317.3" y="196.6" font-size="9.2" fill="#6c3a80" fill-opacity="1.0" stroke="#6c3a80" stroke-width="0.25">LA7</text>
<text x="342.8" y="195.7" font-size="9.1" fill="#2f7fa8" fill-opacity="1.0" stroke="#2f7fa8" stroke-width="0.25">HR9</text>
<g stroke="#8a8a8a" stroke-width="1.0" fill="none">
<rect x="38.5" y="5.0" width="503.0" height="318.0"/>
<path d="M58.6,323.0v-4.6M58.6,5.0v4.6M110.6,323.0v-4.6M110.6,5.0v4.6M162.6,323.0v-4.6M162.6,5.0v4.6M214.6,323.0v-4.6M214.6,5.0v4.6M266.6,323.0v-4.6M266.6,5.0v4.6M318.6,323.0v-4.6M318.6,5.0v4.6M370.6,323.0v-4.6M370.6,5.0v4.6M422.6,323.0v-4.6M422.6,5.0v4.6M474.6,323.0v-4.6M474.6,5.0v4.6M526.6,323.0v-4.6M526.6,5.0v4.6M38.5,319.6h4.6M541.5,319.6h-4.6M38.5,267.6h4.6M541.5,267.6h-4.6M38.5,215.6h4.6M541.5,215.6h-4.6M38.5,163.6h4.6M541.5,163.6h-4.6M38.5,111.6h4.6M541.5,111.6h-4.6M38.5,59.6h4.6M541.5,59.6h-4.6M38.5,7.6h4.6M541.5,7.6h-4.6"/>
</g>
<g font-size="9.5" fill="#2c2c2c" stroke="#2c2c2c" stroke-width="0.3">
<text x="58.8" y="334.7" text-anchor="middle">-0.4</text>
<text x="110.8" y="334.7" text-anchor="middle">-0.3</text>
<text x="162.8" y="334.7" text-anchor="middle">-0.2</text>
<text x="214.8" y="334.7" text-anchor="middle">-0.1</text>
<text x="266.8" y="334.7" text-anchor="middle">0</text>
<text x="318.8" y="334.7" text-anchor="middle">0.1</text>
<text x="370.8" y="334.7" text-anchor="middle">0.2</text>
<text x="422.8" y="334.7" text-anchor="middle">0.3</text>
<text x="474.8" y="334.7" text-anchor="middle">0.4</text>
<text x="526.8" y="334.7" text-anchor="middle">0.5</text>
<text x="34.2" y="322.4" text-anchor="end">-0.3</text>
<text x="34.2" y="270.4" text-anchor="end">-0.2</text>
<text x="34.2" y="218.4" text-anchor="end">-0.1</text>
<text x="34.2" y="166.4" text-anchor="end">0</text>
<text x="34.2" y="114.4" text-anchor="end">0.1</text>
<text x="34.2" y="62.4" text-anchor="end">0.2</text>
<text x="34.2" y="10.4" text-anchor="end">0.3</text>
</g>
<text x="289.2" y="347.2" font-size="10.4" fill="#2c2c2c" stroke="#2c2c2c" stroke-width="0.2" text-anchor="middle">Axis 1</text>
<text transform="translate(12.2,163.8) rotate(-90)" font-size="10.4" fill="#2c2c2c" stroke="#2c2c2c" stroke-width="0.2" text-anchor="middle">Axis 2</text>
<rect x="390" y="277.6" width="133.3" height="32.6" fill="#ffffff" stroke="#4a4a4a" stroke-width="0.9"/>
<path d="M406.2,281.6L410.2,285.6M406.2,285.6L410.2,281.6" stroke="#2fe040" stroke-width="1.0" stroke-opacity="1.0" fill="none"/>
<path d="M405.6,293.7H410.8M408.2,291.1V296.3" stroke="#cc2a3c" stroke-width="0.9" stroke-opacity="1.0" fill="none"/>
<path d="M405.8,303.5H410.6M408.2,301.1V305.9M406.5,301.8L409.9,305.2M406.5,305.2L409.9,301.8" stroke="#0a06d8" stroke-width="1.1" stroke-opacity="1.0" fill="none"/>
<g font-size="8.65" fill="#222222" stroke="#222222" stroke-width="0.2">
<text x="424.2" y="286.8">Cluster 1 - 24(15.1899%)</text>
<text x="424.2" y="296.8">Cluster 2 - 63(39.8734%)</text>
<text x="424.2" y="306.5">Cluster 3 - 71(44.9367%)</text>
</g>
</svg>
</body>
</html>
